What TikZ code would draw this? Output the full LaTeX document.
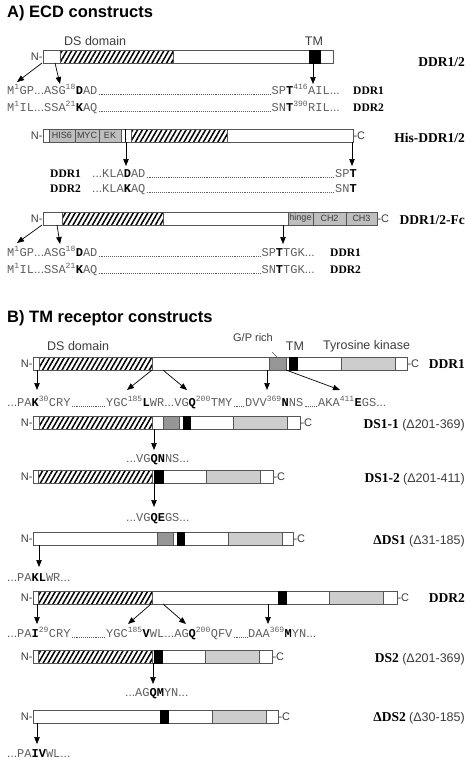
\documentclass[tikz,border=0pt]{standalone}
\usepackage{fontspec}
\setmainfont{Liberation Serif}
\setsansfont{Liberation Sans}
\setmonofont{Liberation Mono}
\usetikzlibrary{arrows.meta,patterns.meta}
\definecolor{ddLine}{RGB}{85,85,85}
\definecolor{ddText}{RGB}{60,60,60}
\definecolor{ddSeq}{RGB}{95,95,95}
\definecolor{ddGP}{RGB}{150,150,150}
\definecolor{ddTK}{RGB}{205,205,205}
\definecolor{ddTag}{RGB}{190,190,190}
\newcommand\resno[1]{\textsuperscript{#1}}
\newcommand\skipres{\textsf{...}}
\newcommand\keyres[1]{\textbf{\color{black}#1}}
\newcommand\delpart[1]{{\sffamily\mdseries\fontsize{12.5}{14}\selectfont\color{ddText}#1}}

\begin{document}
\begin{tikzpicture}[x=1pt, y=-1pt,
  bar/.style={draw=ddLine, fill=white, line width=0.6pt},
  dsbox/.style={draw=ddLine, line width=0.6pt, pattern={Lines[angle=60,distance=4.2pt,line width=1.5pt]}},
  tmbox/.style={draw=black, fill=black},
  gpbox/.style={draw=ddLine, fill=ddGP, line width=0.6pt},
  tkbox/.style={draw=ddLine, fill=ddTK, line width=0.6pt},
  tagbox/.style={draw=ddLine, fill=ddTag, line width=0.6pt},
  tagtxt/.style={font=\sffamily\fontsize{9}{10}\selectfont, text=ddText, inner sep=0pt},
  resarrow/.style={-{Triangle[length=7pt,width=5.5pt]}, line width=0.7pt},
  seq/.style={font=\ttfamily\fontsize{12}{14}\selectfont, text=ddSeq, inner sep=0pt, anchor=base west},
  seqdots/.style={ddSeq, line width=0.7pt, dash pattern=on 0.7pt off 1.2pt, shorten <=1pt, shorten >=1pt},
  dom/.style={font=\sffamily\fontsize{12.5}{14}\selectfont, text=ddText, inner sep=0pt},
  term/.style={font=\sffamily\fontsize{11}{12}\selectfont, text=ddText, inner sep=0pt},
  cname/.style={font=\bfseries\fontsize{13.5}{15}\selectfont, inner sep=0pt, anchor=base east},
  rowname/.style={font=\bfseries\fontsize{11.5}{13}\selectfont, inner sep=0pt, anchor=base west},
  sectitle/.style={font=\sffamily\bfseries\fontsize{16.5}{18}\selectfont, inner sep=0pt, anchor=west}]
  \useasboundingbox (0,0) rectangle (474,763);

  % section titles
  \node[sectitle] (titleA) at (7,13) {A) ECD constructs};
  \node[sectitle] (titleB) at (7,318) {B) TM receptor constructs};

  % domain names over the bars
  \node[dom, anchor=west] (dsA) at (64,41) {DS domain};
  \node[dom] (tmA) at (314,41) {TM};
  \node[dom, anchor=west] (dsB) at (47,346) {DS domain};
  \node[dom, font=\sffamily\fontsize{11}{12}\selectfont] (gpB) at (253,338) {G/P rich};
  \node[dom] (tmB) at (295,346) {TM};
  \node[dom, anchor=west] (tkB) at (323,346) {Tyrosine kinase};
  \coordinate (gpTick) at (277,357);
  \draw[ddLine, line width=0.6pt] (272,352) -- (gpTick);

  % bars, with N- at the start
  \foreach \nm/\y/\xa/\xb in {ecd/50/43/333, his/129/43/353, fc/212/43/377,
      ddra/357/33/407, dsa/416/33/300, dsb/470/33/273, dds/532/33/293,
      ddrb/591/33/397, dsc/650/33/272, ddsb/710/33/278} {
    \draw[bar] (\xa,\y) rectangle (\xb,\y+13);
    \node[term, anchor=east] (\nm-n) at (\xa-0.3,\y+6.5) {N-};
  }
  % C-termini
  \foreach \nm/\y/\xb in {his/129/353, fc/212/377, ddra/357/407, dsa/416/300,
      dsb/470/273, dds/532/293, ddrb/591/397, dsc/650/272, ddsb/710/278}
    \node[term, anchor=west] (\nm-c) at (\xb+0.3,\y+6.5) {-C};

  % domains inside the bars
  \foreach \sty/\xa/\xb/\y in {
      dsbox/60/173/50, tmbox/309/320/50,
      dsbox/131/227/129,
      dsbox/62/163/212,
      dsbox/39/152/357, gpbox/269/286/357, tmbox/289/297/357, tkbox/341/395/357,
      dsbox/39/152/416, gpbox/163/179/416, tmbox/183/190/416, tkbox/233/287/416,
      dsbox/38/152/470, tmbox/154/163/470, tkbox/206/260/470,
      gpbox/157/173/532, tmbox/177/184/532, tkbox/228/282/532,
      dsbox/38/152/591, tmbox/278/286/591, tkbox/329/383/591,
      dsbox/38/152/650, tmbox/154/162/650, tkbox/205/259/650,
      tmbox/160/168/710, tkbox/212/266/710}
    \draw[\sty] (\xa,\y) rectangle (\xb,\y+13);
  \foreach \xa/\xb/\y/\txt [count=\i] in {49/75/129/HIS6, 75/99/129/MYC, 99/121/129/EK,
      288/313/212/hinge, 313/346/212/CH2, 346/377/212/CH3}
    \draw[tagbox] (\xa,\y) rectangle (\xb,\y+13) node[tagtxt] (tag\i) at ({(\xa+\xb)/2},\y+6.5) {\txt};
  \draw[black, line width=1.2pt] (125.5,129) -- (125.5,142);

  % construct names
  \node[cname] (cECD) at (465,66) {DDR1/2};
  \node[cname] (cHis) at (465,142) {His-DDR1/2};
  \node[cname] (cFc) at (465,224) {DDR1/2-Fc};
  \node[cname] (cDDR1) at (465,368) {DDR1};
  \node[cname] (cDS11) at (465,428) {DS1-1 \delpart{(Δ201-369)}};
  \node[cname] (cDS12) at (465,482) {DS1-2 \delpart{(Δ201-411)}};
  \node[cname] (cdDS1) at (465,544) {ΔDS1 \delpart{(Δ31-185)}};
  \node[cname] (cDDR2) at (465,602) {DDR2};
  \node[cname] (cDS2) at (465,662) {DS2 \delpart{(Δ201-369)}};
  \node[cname] (cdDS2) at (465,721) {ΔDS2 \delpart{(Δ30-185)}};

  % arrows to the junctions
  \foreach \sx/\sy/\ex/\ey [count=\i] in {42/63/17/82, 55/63/60/84, 313/63/313/84,
      126/142/126/166, 352/142/352/166,
      42/225/17/243, 57/225/60/244, 283/225/283/244,
      37/370/37/390, 152/370/127/390, 163/370/187/390, 267/370/267/390, 286/370/340/390,
      154/429/154/450, 154/483/154/507, 39/545/39/567,
      37/604/37/624, 151/604/128/624, 163/604/186/624, 268/604/268/624,
      153/663/153/684, 37/723/37/744} {
    \coordinate (from\i) at (\sx,\sy);
    \coordinate (to\i) at (\ex,\ey);
    \draw[resarrow] (from\i) -- (to\i);
  }

  % sequences, DDR1/2
  \node[seq] (ecd1a) at (7,94) {M\resno{1}GP\skipres ASG\resno{18}\keyres{D}AD};
  \node[seq, anchor=base east] (ecd1b) at (340,94) {SP\keyres{T}\resno{416}AIL\skipres};
  \node[seq] (ecd2a) at (7,111) {M\resno{1}IL\skipres SSA\resno{21}\keyres{K}AQ};
  \node[seq, anchor=base east] (ecd2b) at (340,111) {SN\keyres{T}\resno{390}RIL\skipres};
  \node[rowname] (ecd1n) at (353,94) {DDR1};
  \node[rowname] (ecd2n) at (353,111) {DDR2};

  % sequences, His-DDR1/2
  \node[rowname] (his1n) at (50,177) {DDR1};
  \node[rowname] (his2n) at (50,192) {DDR2};
  \node[seq] (his1a) at (92,177) {\skipres KLA\keyres{D}AD};
  \node[seq, anchor=base east] (his1b) at (357,177) {SP\keyres{T}};
  \node[seq] (his2a) at (92,192) {\skipres KLA\keyres{K}AQ};
  \node[seq, anchor=base east] (his2b) at (357,192) {SN\keyres{T}};

  % sequences, DDR1/2-Fc
  \node[seq] (fc1a) at (7,256) {M\resno{1}GP\skipres ASG\resno{18}\keyres{D}AD};
  \node[seq, anchor=base east] (fc1b) at (315,256) {SP\keyres{T}TGK\skipres};
  \node[seq] (fc2a) at (7,273) {M\resno{1}IL\skipres SSA\resno{21}\keyres{K}AQ};
  \node[seq, anchor=base east] (fc2b) at (315,273) {SN\keyres{T}TGK\skipres};
  \node[rowname] (fc1n) at (330,256) {DDR1};
  \node[rowname] (fc2n) at (330,273) {DDR2};

  % sequences, DDR1 and its deletions
  \node[seq] (d1a) at (7,406) {\skipres PA\keyres{K}\resno{30}CRY};
  \node[seq] (d1b) at (106,406) {YGC\resno{185}\keyres{L}WR\skipres VG\keyres{Q}\resno{200}TMY};
  \node[seq] (d1c) at (245,406) {DVV\resno{369}\keyres{N}NS};
  \node[seq] (d1d) at (318,406) {AKA\resno{411}\keyres{E}GS\skipres};
  \node[seq] (ds11) at (126,462) {\skipres VG\keyres{QN}NS\skipres};
  \node[seq] (ds12) at (126,521) {\skipres VG\keyres{QE}GS\skipres};
  \node[seq] (dds1) at (7,581) {\skipres PA\keyres{KL}WR\skipres};

  % sequences, DDR2 and its deletions
  \node[seq] (d2a) at (7,637) {\skipres PA\keyres{I}\resno{29}CRY};
  \node[seq] (d2b) at (106,637) {YGC\resno{185}\keyres{V}WL\skipres AG\keyres{Q}\resno{200}QFV};
  \node[seq] (d2c) at (248,637) {DAA\resno{369}\keyres{M}YN\skipres};
  \node[seq] (ds2) at (125,696) {\skipres AG\keyres{QM}YN\skipres};
  \node[seq] (dds2) at (7,757) {\skipres PA\keyres{IV}WL\skipres};

  % dotted gaps in the sequences
  \foreach \a/\b in {ecd1a/ecd1b, ecd2a/ecd2b, his1a/his1b, his2a/his2b, fc1a/fc1b, fc2a/fc2b,
      d1a/d1b, d1b/d1c, d1c/d1d, d2a/d2b, d2b/d2c}
    \draw[seqdots] (\a.base east) -- (\b.base west);
\end{tikzpicture}
\end{document}
